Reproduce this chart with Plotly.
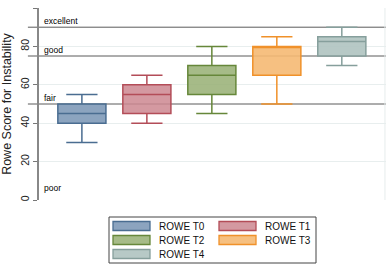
import plotly.graph_objects as go

groups = ["ROWE T0", "ROWE T1", "ROWE T2", "ROWE T3", "ROWE T4"]
lower = [30, 40, 45, 50, 70]
q1 = [40, 45, 55, 65, 75]
median = [45, 55, 65, 80, 82.5]
q3 = [50, 60, 70, 80, 85]
upper = [55, 65, 80, 85, 90]

line_colors = ["#4a6d91", "#b34d58", "#66873a", "#f0912a", "#869f9c"]
fill_colors = ["rgba(120,148,180,0.85)", "rgba(205,135,145,0.85)", "rgba(150,175,115,0.85)",
               "rgba(245,185,115,0.9)", "rgba(175,195,192,0.9)"]

ref_values = [90, 75, 50]
ref_labels = ["excellent", "good", "fair", "poor"]
ref_label_y = [93, 78, 53, 6]

fig = go.Figure()
for i, g in enumerate(groups):
    fig.add_trace(go.Box(
        x=[i], q1=[q1[i]], median=[median[i]], q3=[q3[i]],
        lowerfence=[lower[i]], upperfence=[upper[i]],
        name=g, width=0.74, whiskerwidth=0.65,
        line=dict(color=line_colors[i], width=1.5),
        fillcolor=fill_colors[i], showlegend=False, hoverinfo="skip",
    ))

for v in ref_values:
    fig.add_shape(type="line", xref="paper", yref="y", x0=-0.032, x1=1.0, y0=v, y1=v,
                  line=dict(color="#5a5a5a", width=1), layer="below")

# faint right border of plot region
fig.add_shape(type="line", xref="paper", yref="paper", x0=0.997, x1=0.997, y0=0, y1=1,
              line=dict(color="#e6ecec", width=1), layer="below")

for lab, yv in zip(ref_labels, ref_label_y):
    fig.add_annotation(text=lab, xref="paper", yref="y", x=0.01, y=yv,
                       xanchor="left", yanchor="middle", showarrow=False,
                       font=dict(size=8.5, color="#000", family="Liberation Sans, Arial"))

# legend drawn manually
def px_x(p):
    return (p - 39) / 347

def px_y(p):
    return (200 - p) / 192

fig.add_shape(type="rect", xref="paper", yref="paper", x0=px_x(109), x1=px_x(316),
              y0=px_y(263), y1=px_y(217), line=dict(color="#444", width=1), fillcolor="white")
cols = [(113, 157), (219, 263)]
rows = [226, 240, 254]
for i, g in enumerate(groups):
    r, c = divmod(i, 2)
    sx, tx = cols[c]
    cy = rows[r]
    fig.add_shape(type="rect", xref="paper", yref="paper", x0=px_x(sx), x1=px_x(sx + 37),
                  y0=px_y(cy + 4.5), y1=px_y(cy - 4.5),
                  line=dict(color=line_colors[i], width=1.3), fillcolor=fill_colors[i])
    fig.add_annotation(text=g, xref="paper", yref="paper", x=px_x(tx), y=px_y(cy),
                       xanchor="left", yanchor="middle", showarrow=False,
                       font=dict(size=10, color="#111", family="Liberation Sans, Arial"))

fig.update_layout(
    width=387, height=264, margin=dict(l=39, r=1, t=8, b=64, autoexpand=False),
    paper_bgcolor="white", plot_bgcolor="white", boxmode="overlay",
    font=dict(family="Liberation Sans, Arial", color="#222"),
    xaxis=dict(range=[-0.66, 4.68], showticklabels=False, showgrid=False,
               zeroline=False, ticks="", showline=False, automargin=False),
    yaxis=dict(range=[0, 100], tickvals=[0, 20, 40, 60, 80, 100], tickangle=-90,
               tickfont=dict(size=10.5, color="#222"), ticks="outside", ticklen=4,
               tickcolor="#777", showline=True, linecolor="#888", linewidth=1.5,
               gridcolor="#e8eeee", gridwidth=1, zeroline=False, automargin=False,
               title=dict(text="Rowe Score for Instability", font=dict(size=12.5, color="#222"),
                          standoff=6)),
)

fig.write_html("out.html", config={"displayModeBar": False},
               post_script="document.body.style.margin='0';document.body.style.padding='0';")
